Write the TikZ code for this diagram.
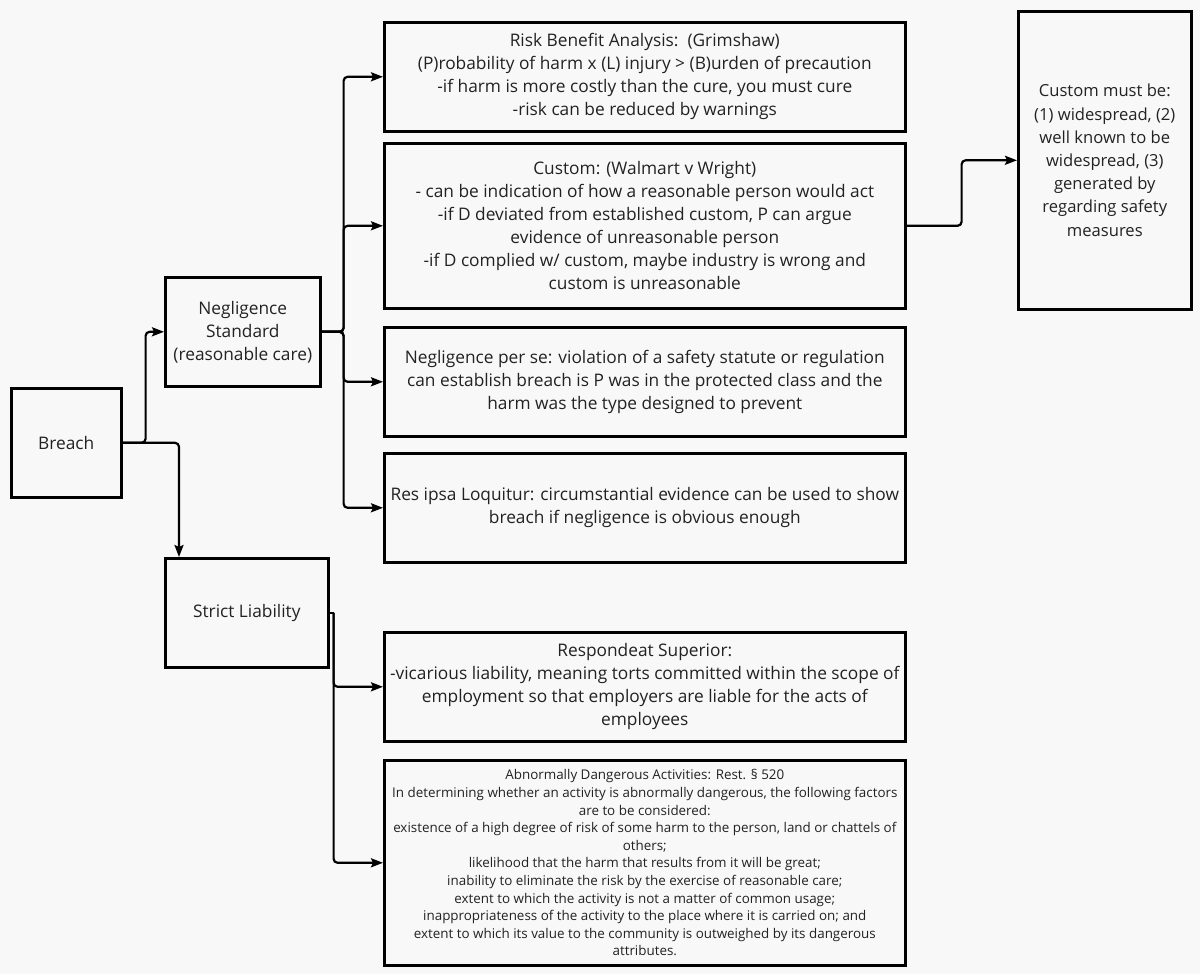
\documentclass[tikz,border=0pt]{standalone}
\usepackage{fontspec}
\setmainfont{Open Sans}[Ligatures=NoCommon]
\usetikzlibrary{arrows.meta, positioning, calc}
\definecolor{paper}{RGB}{248,248,248}
\definecolor{ink}{RGB}{34,34,34}
\tikzset{
    boxA/.style={draw=black, line width=2.6pt, fill=paper, text=ink, rectangle, align=center, inner sep=0pt, anchor=north west, font=\fontsize{17.3}{23}\selectfont},
    boxM/.style={boxA, font=\fontsize{16.6}{23.2}\selectfont},
    boxS/.style={boxA, font=\fontsize{13.4}{17.6}\selectfont},
    linkA/.style={line width=2.2pt, rounded corners=4pt, -{Stealth[length=12pt, width=9pt, inset=2pt]}}
}

\begin{document}
\begin{tikzpicture}[x=1pt, y=-1pt]
    \fill[paper] (0,0) rectangle (1200,974);
    \useasboundingbox (0,0) rectangle (1200,974);
    % left column
    \node[boxA, minimum width=110, minimum height=109] (breach) at (10,387) {Breach};
    \node[boxA, minimum width=155, minimum height=109] (neg) at (164,276) {Negligence\\Standard\\(reasonable care)};
    \node[boxA, minimum width=163, minimum height=109] (strict) at (164,557) {Strict Liability};
    % negligence branch
    \node[boxA, minimum width=521, minimum height=109] (risk) at (383,21) {Risk Benefit Analysis:~~(Grimshaw)\\(P)robability of harm x (L) injury > (B)urden of precaution\\-if harm is more costly than the cure, you must cure\\-risk can be reduced by warnings};
    \node[boxA, minimum width=521, minimum height=165] (custom) at (383,142) {Custom: (Walmart v Wright)\\- can be indication of how a reasonable person would act\\-if D deviated from established custom, P can argue\\evidence of unreasonable person\\-if D complied w/ custom, maybe industry is wrong and\\custom is unreasonable};
    \node[boxA, minimum width=521, minimum height=109] (perse) at (383,326) {Negligence per se: violation of a safety statute or regulation\\can establish breach is P was in the protected class and the\\harm was the type designed to prevent};
    \node[boxA, minimum width=521, minimum height=109] (resipsa) at (383,452) {Res ipsa Loquitur: circumstantial evidence can be used to show\\breach if negligence is obvious enough};
    \node[boxM, minimum width=173, minimum height=298] (must) at (1017,10) {Custom must be:\\(1) widespread, (2)\\well known to be\\widespread, (3)\\generated by\\regarding safety\\measures};
    % strict liability branch
    \node[boxA, minimum width=521, minimum height=109] (respond) at (383,631) {Respondeat Superior:\\-vicarious liability, meaning torts committed within the scope of\\employment so that employers are liable for the acts of\\employees};
    \node[boxS, minimum width=521, minimum height=205] (abnorm) at (383,759) {Abnormally Dangerous Activities: Rest. \S\ 520\\In determining whether an activity is abnormally dangerous, the following factors\\are to be considered:\\existence of a high degree of risk of some harm to the person, land or chattels of\\others;\\likelihood that the harm that results from it will be great;\\inability to eliminate the risk by the exercise of reasonable care;\\extent to which the activity is not a matter of common usage;\\inappropriateness of the activity to the place where it is carried on; and\\extent to which its value to the community is outweighed by its dangerous\\attributes.};
    % connectors
    \draw[linkA] (breach.east) -- ++(23,0) |- (neg.west);
    \draw[linkA] (breach.east) -| ([xshift=15pt]strict.north west);
    \foreach \t in {risk,custom,perse,resipsa}{
    \draw[linkA] (neg.east) -- ++(22,0) |- (\t.west);}
    \draw[linkA] (custom.east) -- ++(55,0) |- (must.west);
    \coordinate (sl) at ([xshift=4pt]strict.east);
    \draw[line width=2.2pt] (strict.east) -- (sl);
    \foreach \t in {respond,abnorm}{
    \draw[linkA] (sl) |- (\t.west);}
\end{tikzpicture}
\end{document}
